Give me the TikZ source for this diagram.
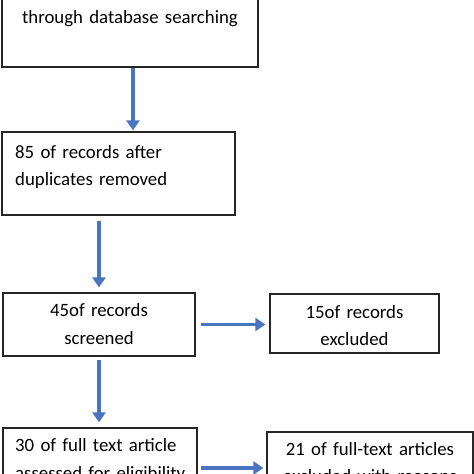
\documentclass[tikz,border=0pt]{standalone}
\usepackage{fontspec}
\setmainfont{Carlito}
\usepackage{tikz}
\usetikzlibrary{positioning,arrows.meta}
\usepackage{xcolor}
\definecolor{flowblue}{HTML}{4A74C0}
\tikzset{
  box/.style={draw=black!85, line width=1.3pt, fill=white},
  txt/.style={font=\fontsize{18.8}{27.3}\selectfont, inner sep=0pt, text width=#1},
  flow/.style={flowblue, line width=3.8pt, -{Triangle[length=10pt,width=13pt]}}
}

\begin{document}
\begin{tikzpicture} [x=1pt, y=-1pt]
\useasboundingbox (0, 0) rectangle (474, 474);
\clip (0, 0) rectangle (474, 474);
\fill [white] (0, 0) rectangle (474, 474);
% boxes
\node [box, minimum width=256pt, minimum height=110pt] (ident) at (130, 12) {};
\node [box, minimum width=233pt, minimum height=83pt] (dedup) at (118.5, 173.5) {};
\node [box, minimum width=192pt, minimum height=63pt] (screen) at (99, 324.5) {};
\node [box, minimum width=169pt, minimum height=59pt] (excl) at (354.5, 323.5) {};
\node [box, minimum width=194pt, minimum height=80pt] (full) at (100, 468) {};
\node [box, minimum width=206pt, minimum height=80pt] (fullexcl) at (370, 472) {};
% texts
\node [txt=245pt, align=center, anchor=base] (identtxt) at (130, 23.3) {through database searching};
\node [txt=218pt, align=left, anchor=base west] (deduptxt) at (15, 158) {85 of records after\\duplicates removed};
\node [txt=185pt, align=center, anchor=base] (screentxt) at (99, 316.7) {45of records\\screened};
\node [txt=165pt, align=center, anchor=base] (excltxt) at (354.5, 318.3) {15of records\\excluded};
\node [txt=182pt, align=left, anchor=base west] (fulltxt) at (15, 451.7) {30 of full text article\\assessed for eligibility};
\node [txt=204pt, align=center, anchor=base] (fullexcltxt) at (370, 455) {21 of full-text articles\\excluded with reasons};
% arrows
\draw [flow, shorten >=1pt] ([xshift=3pt]ident.south) -- ([xshift=3pt]ident.south |- dedup.north);
\draw [flow, shorten <=5pt, shorten >=5pt] (screen.north |- dedup.south) -- (screen.north);
\draw [flow, shorten <=3pt, shorten >=5pt] (screen.south) -- (screen.south |- full.north);
\draw [flow, shorten <=5pt, shorten >=4pt] (screen.east) -- (screen.east -| excl.west);
\draw [flow, shorten <=3pt, shorten >=3pt] (full.east) -- (full.east -| fullexcl.west);
\end{tikzpicture}
\end{document}
